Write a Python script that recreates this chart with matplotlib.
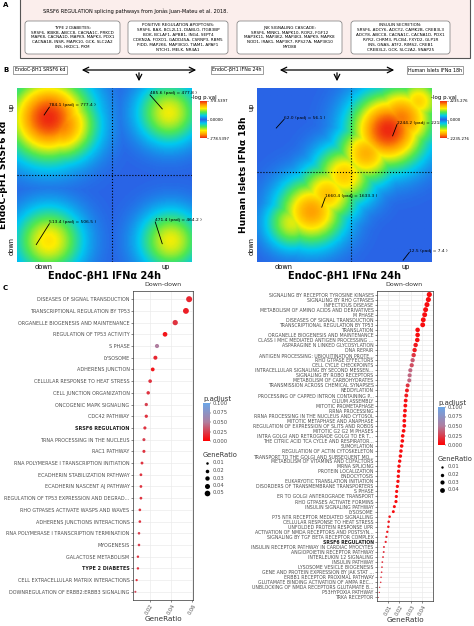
import numpy as np
import matplotlib
matplotlib.use('Agg')
import matplotlib.pyplot as plt
from matplotlib.colors import LinearSegmentedColormap, Normalize
from matplotlib.patches import FancyBboxPatch, Rectangle

W, H = 474, 626

# ---- panel A text
A_TITLE = 'SRSF6 REGULATION splicing pathways from Jonàs Juan-Mateu et al. 2018.'
A_BOXES = [
    'TYPE 2 DIABETES:\nSRSF6, IKBKB, ABCC8, CACNA1C, PRKCD\nMAPK8, CACNA1D, MAPK9, MAPK3, PDX1\n'
    'CACNA1B, INSR, MAPK10, GCK, SLC2A2\nINS, HKDC1, PKM',
    'POSITIVE REGULATION APOPTOSIS:\nSRSF6, BAX, BCL2L11, DIABLO, ITGB3BP\nBOK, BCLAF1, APBB1, ING4, SEPT4\n'
    'CDKN2A, FOXO1, GADD45A, CSRNP3, RBM5\nPIDD, MAP2K6, MAP3K10, TIAM1, APAF1\nNTCH1, MELK, NR4A1',
    'JNK SIGNALING CASCADE:\nSRSF6, MINK1, MAPK10, ROR2, FGF12\nMAP3K11, MAP4K2, MAP4K3, MAPK9, MAPK8\n'
    'NOD1, IRAK1, MAP3K7, RPS27A, MAP3K10\nMYD88',
    'INSULIN SECRETION:\nSRSF6, ADCY6, ADCY2, CAMK2B, CREB3L3\nADCY8, ABCC8, CACNA1C, CACNA1D, PDX1\n'
    'RYR2, CHRM3, PLCB4, FXYD2, GLP1R\nINS, GNAS, ATF2, RIMS2, CREB1\nCREB3L2, GCK, SLC2A2, SNAP25',
]
A_BOX_X = [(25, 120), (128, 228), (237, 342), (351, 450)]

# ---- panel B
B_NAMES = ['EndoC-βH1 SRSF6 kd', 'EndoC-βH1 IFNα 24h', 'Human Islets IFNα 18h']
# blobs: (x, y, amplitude, width) in quadrant space [-1, 1]
B1_BLOBS = [(-0.64, 0.66, 1.00, 0.33), (-0.5, 0.58, 0.85, 0.28), (0.74, 0.72, 0.58, 0.25),
            (-0.64, -0.76, 0.62, 0.27), (0.76, -0.76, 0.58, 0.25)]
B2_BLOBS = [(0.5, 0.52, 1.00, 0.30), (0.65, 0.65, 0.85, 0.28), (-0.38, -0.42, 0.78, 0.27),
            (0.0, 0.0, 0.68, 0.25), (0.25, 0.25, 0.74, 0.25), (-0.2, -0.22, 0.70, 0.25),
            (0.85, 0.85, 0.66, 0.2), (-0.6, -0.55, 0.56, 0.21)]
B1_MAX, B2_MAX = '778.5397', '2235.276'
B1_NOTES = [('784.1 (padj = 777.4 )', (-0.63, 0.80), (-0.69, 0.69)),
            ('485.6 (padj = 477.8 )', (0.52, 0.94), (0.66, 0.76)),
            ('513.4 (padj = 506.5 )', (-0.63, -0.54), (-0.78, -0.80)),
            ('471.4 (padj = 464.2 )', (0.58, -0.52), (0.66, -0.79))]
B2_NOTES = [('62.0 (padj = 56.1 )', (-0.69, 0.66), (-0.78, 0.54)),
            ('2244.2 (padj = 2218.2 )', (0.60, 0.60), (0.55, 0.45)),
            ('1660.4 (padj = 1633.3 )', (-0.22, -0.24), (-0.26, -0.37)),
            ('12.5 (padj = 7.4 )', (0.74, -0.87), (0.67, -0.98))]

# ---- panel C
C1_TERMS = ['DISEASES OF SIGNAL TRANSDUCTION', 'TRANSCRIPTIONAL REGULATION BY TP53',
            'ORGANELLE BIOGENESIS AND MAINTENANCE', 'REGULATION OF TP53 ACTIVITY', 'S PHASE',
            'LYSOSOME', 'ADHERENS JUNCTION', 'CELLULAR RESPONSE TO HEAT STRESS',
            'CELL JUNCTION ORGANIZATION', 'ONCOGENIC MAPK SIGNALING', 'CDC42 PATHWAY',
            'SRSF6 REGULATION', 'TRNA PROCESSING IN THE NUCLEUS', 'RAC1 PATHWAY',
            'RNA POLYMERASE I TRANSCRIPTION INITIATION', 'ECADHERIN STABILIZATION PATHWAY',
            'ECADHERIN NASCENT AJ PATHWAY', 'REGULATION OF TP53 EXPRESSION AND DEGRAD...',
            'RHO GTPASES ACTIVATE WASPS AND WAVES', 'ADHERENS JUNCTIONS INTERACTIONS',
            'RNA POLYMERASE I TRANSCRIPTION TERMINATION', 'MYOGENESIS', 'GALACTOSE METABOLISM',
            'TYPE 2 DIABETES', 'CELL EXTRACELLULAR MATRIX INTERACTIONS',
            'DOWNREGULATION OF ERBB2:ERBB3 SIGNALING']
C1_RATIO = [0.057, 0.054, 0.044, 0.0345, 0.027, 0.0255, 0.023, 0.0206, 0.0188, 0.017, 0.017,
            0.0157, 0.0148, 0.0148, 0.013, 0.012, 0.012, 0.012, 0.011, 0.011, 0.0102, 0.0102,
            0.0092, 0.0092, 0.008, 0.0068]
C1_PADJ = [0.015, 0.012, 0.02, 0.008, 0.05, 0.015, 0.008, 0.02, 0.02, 0.025, 0.02, 0.02, 0.025,
           0.02, 0.02, 0.02, 0.02, 0.02, 0.02, 0.02, 0.025, 0.025, 0.02, 0.02, 0.02, 0.03]

C2_TERMS = ['SIGNALING BY RECEPTOR TYROSINE KINASES', 'SIGNALING BY RHO GTPASES', 'INFECTIOUS DISEASE',
            'METABOLISM OF AMINO ACIDS AND DERIVATIVES', 'M PHASE', 'DISEASES OF SIGNAL TRANSDUCTION',
            'TRANSCRIPTIONAL REGULATION BY TP53', 'TRANSLATION', 'ORGANELLE BIOGENESIS AND MAINTENANCE',
            'CLASS I MHC MEDIATED ANTIGEN PROCESSING ...', 'ASPARAGINE N LINKED GLYCOSYLATION',
            'DNA REPAIR', 'ANTIGEN PROCESSING: UBIQUITINATION PROTE...', 'RHO GTPASE EFFECTORS',
            'CELL CYCLE CHECKPOINTS', 'INTRACELLULAR SIGNALING BY SECOND MESSEN...',
            'SIGNALING BY ROBO RECEPTORS', 'METABOLISM OF CARBOHYDRATES',
            'TRANSMISSION ACROSS CHEMICAL SYNAPSES', 'NEDDYLATION',
            'PROCESSING OF CAPPED INTRON CONTAINING P...', 'CILIUM ASSEMBLY', 'MITOTIC PROMETAPHASE',
            'RRNA PROCESSING', 'RRNA PROCESSING IN THE NUCLEUS AND CYTOSOL',
            'MITOTIC METAPHASE AND ANAPHASE', 'REGULATION OF EXPRESSION OF SLITS AND ROBOS',
            'MITOTIC G2 G2 M PHASES', 'INTRA GOLGI AND RETROGRADE GOLGI TO ER T...',
            'THE CITRIC ACID TCA CYCLE AND RESPIRATOR...', 'SUMOYLATION',
            'REGULATION OF ACTIN CYTOSKELETON', 'TRANSPORT TO THE GOLGI AND SUBSEQUENT MO...',
            'METABOLISM OF VITAMINS AND COFACTORS', 'MRNA SPLICING', 'PROTEIN LOCALIZATION',
            'ENDOCYTOSIS', 'EUKARYOTIC TRANSLATION INITIATION', 'DISORDERS OF TRANSMEMBRANE TRANSPORTERS',
            'S PHASE', 'ER TO GOLGI ANTEROGRADE TRANSPORT', 'RHO GTPASES ACTIVATE FORMINS',
            'INSULIN SIGNALING PATHWAY', 'LYSOSOME', 'P75 NTR RECEPTOR MEDIATED SIGNALLING',
            'CELLULAR RESPONSE TO HEAT STRESS', 'UNFOLDED PROTEIN RESPONSE UPR',
            'ACTIVATION OF NMDA RECEPTORS AND POSTSYN...', 'SIGNALING BY TGF BETA RECEPTOR COMPLEX',
            'SRSF6 REGULATION', 'INSULIN RECEPTOR PATHWAY IN CARDIAC MYOCYTES',
            'ANGIOPOIETIN RECEPTOR PATHWAY', 'INTERLEUKIN 12 SIGNALING', 'INSULIN PATHWAY',
            'LYSOSOME VESICLE BIOGENESIS', 'GENE AND PROTEIN EXPRESSION BY JAK STAT ...',
            'ERBB1 RECEPTOR PROXIMAL PATHWAY', 'GLUTAMATE BINDING ACTIVATION OF AMPA REC...',
            'UNBLOCKING OF NMDA RECEPTORS GLUTAMATE B...', 'P53HYPOXIA PATHWAY', 'TRKA RECEPTOR']
C2_RATIO = [0.046, 0.0452, 0.044, 0.0428, 0.042, 0.0408, 0.0403, 0.0359, 0.0359, 0.0356, 0.0342,
            0.0333, 0.0325, 0.0316, 0.0308, 0.0296, 0.029, 0.0287, 0.0273, 0.0267, 0.0261, 0.0256,
            0.0253, 0.025, 0.0247, 0.0244, 0.0244, 0.0238, 0.023, 0.0227, 0.0221, 0.0215, 0.021,
            0.0204, 0.0198, 0.0195, 0.0192, 0.0189, 0.0184, 0.0178, 0.0175, 0.0172, 0.0158, 0.0149,
            0.0117, 0.0109, 0.0106, 0.0097, 0.0089, 0.0083, 0.0068, 0.0066, 0.006, 0.0054, 0.0051,
            0.0048, 0.0043, 0.004, 0.0031, 0.0028, 0.002]
C2_PADJ = [0.005, 0.005, 0.005, 0.005, 0.005, 0.005, 0.005, 0.005, 0.005, 0.005, 0.01, 0.01, 0.02,
           0.035, 0.03, 0.04, 0.04, 0.04, 0.02, 0.01, 0.01, 0.005, 0.005, 0.005, 0.005, 0.005, 0.005,
           0.005, 0.005, 0.005, 0.005, 0.005, 0.005, 0.005, 0.005, 0.005, 0.005, 0.005, 0.005, 0.005,
           0.005, 0.005, 0.005, 0.005, 0.01, 0.01, 0.01, 0.01, 0.015, 0.015, 0.02, 0.02, 0.02, 0.02,
           0.02, 0.02, 0.02, 0.02, 0.025, 0.02, 0.03]


def fx(px):
    return px / W


def fy(py):
    return 1 - py / H


def axes_px(fig, x0, y0, x1, y1):
    return fig.add_axes([fx(x0), fy(y1), (x1 - x0) / W, (y1 - y0) / H])


fig = plt.figure(figsize=(W / 100, H / 100), dpi=100)
ovl = fig.add_axes([0, 0, 1, 1])
ovl.set_xlim(0, W)
ovl.set_ylim(H, 0)
ovl.axis('off')

# ---- panel A
ovl.text(3, 5, 'A', fontsize=5, fontweight='bold', va='center')
ovl.add_patch(Rectangle((20, -2), 450, 60, fc='#fbeeec', ec='#555555', lw=0.8))
ovl.text(43, 11, A_TITLE, fontsize=3.6, va='center')
for (x0, x1), txt in zip(A_BOX_X, A_BOXES):
    ovl.add_patch(FancyBboxPatch((x0, 21), x1 - x0, 33, boxstyle='round,pad=0,rounding_size=3',
                                 fc='white', ec='#777777', lw=0.5))
    ovl.text((x0 + x1) / 2, 37.5, txt, fontsize=3.0, ha='center', va='center', linespacing=1.3)

# ---- panel B header
ovl.text(3, 70, 'B', fontsize=5, fontweight='bold', va='center')
box_cx = [40, 237, 435]
for cx, name in zip(box_cx, B_NAMES):
    ovl.text(cx, 70, name, fontsize=3.4, ha='center', va='center',
             bbox=dict(boxstyle='square,pad=0.3', fc='white', ec='#777777', lw=0.5))
for (a, b), dx in [((79, 199), 139), ((277, 397), 337)]:
    ovl.annotate('', xy=(a, 70), xytext=(b, 70),
                 arrowprops=dict(arrowstyle='<->', lw=0.9, color='black'))
    ovl.annotate('', xy=(dx, 84), xytext=(dx, 70),
                 arrowprops=dict(arrowstyle='->', lw=0.9, color='black'))

half = ['#ee2a10', '#ff9a00', '#ffee00', '#50e850', '#00c8f0', '#2a62e6']
heat_cmap = LinearSegmentedColormap.from_list('sym', half + half[-2::-1])
grid = np.linspace(-1, 1, 200)
gx, gy = np.meshgrid(grid, grid)


def field(blobs):
    z = np.zeros_like(gx)
    for bx, by, amp, wd in blobs:
        z = np.maximum(z, amp * np.exp(-((gx - bx) ** 2 + (gy - by) ** 2) / (2 * wd ** 2)))
    return z


def heat(x0, blobs, notes, ylabel, vmax_txt, zero_txt, vline, hline):
    ax = axes_px(fig, x0, 88, x0 + 175, 262)
    # values 0..1 mapped onto the lower (blue -> red) half of the symmetric scale
    ax.imshow(-field(blobs), extent=(-1, 1, -1, 1), origin='lower', cmap=heat_cmap,
              vmin=-1, vmax=1, aspect='auto', interpolation='bilinear')
    ax.axvline(vline, ls=':', color='black', lw=0.8)
    ax.axhline(hline, ls=':', color='black', lw=0.8)
    for txt, tpos, lpos in notes:
        ax.text(tpos[0], tpos[1], txt, fontsize=3.2, va='center')
        ax.plot([lpos[0], tpos[0]], [lpos[1], tpos[1] - 0.02], color='black', lw=0.6)
    ax.set_xlim(-1, 1)
    ax.set_ylim(-1, 1)
    ax.set_xticks([-0.7, 0.7], ['down', 'up'], fontsize=4.8)
    ax.set_yticks([-0.82, 0.78], ['down', 'up'], fontsize=4.8, rotation=90, va='center')
    ax.tick_params(length=0, pad=1.5)
    for s in ax.spines.values():
        s.set_visible(False)
    ax.set_xlabel('EndoC-βH1 IFNα 24h', fontsize=7, fontweight='bold', labelpad=1)
    ax.set_ylabel(ylabel, fontsize=6.6, fontweight='bold', labelpad=1)
    cax = axes_px(fig, x0 + 183, 101, x0 + 190, 138)
    cb = fig.colorbar(plt.cm.ScalarMappable(Normalize(-1, 1), heat_cmap), cax=cax, ticks=[-1, 0, 1])
    cb.ax.set_yticklabels(['-' + vmax_txt, zero_txt, vmax_txt], fontsize=2.8)
    cb.ax.tick_params(length=1, width=0.4, pad=1)
    cb.outline.set_visible(False)
    cax.set_title('-log p.val', fontsize=4, pad=1.5)


heat(17, B1_BLOBS, B1_NOTES, 'EndoC-βH1 SRSF6 kd', B1_MAX, '0.0000', 0.09, 0.0)
heat(257, B2_BLOBS, B2_NOTES, 'Human Islets IFNα 18h', B2_MAX, '0.000', 0.07, 0.03)

# ---- panel C
ovl.text(3, 288, 'C', fontsize=5, fontweight='bold', va='center')
pad_cmap = LinearSegmentedColormap.from_list('padj', ['#ff0000', '#b07fa0', '#6aa6e8'])
pnorm = Normalize(0, 0.1)


def dots(x0, x1, y1, terms, ratio, padj, xlim, xticks, scale, lab_fs, leg_x, leg_y,
         leg_vals, title_x):
    ax = axes_px(fig, x0, 291, x1, y1)
    n = len(terms)
    ypos = np.arange(n)[::-1]
    ax.scatter(ratio, ypos, s=np.array(ratio) * scale, c=padj, cmap=pad_cmap, norm=pnorm,
               zorder=3, lw=0)
    ax.set_xlim(*xlim)
    ax.set_ylim(-0.7, n - 0.3)
    ax.set_yticks(ypos, terms, fontsize=lab_fs, color='#4d4d4d')
    for lbl in ax.get_yticklabels():
        if lbl.get_text() in ('SRSF6 REGULATION', 'TYPE 2 DIABETES'):
            lbl.set_fontweight('bold')
            lbl.set_color('#222222')
    ax.set_xticks(xticks, [f'{t:g}' for t in xticks], fontsize=3.6, rotation=60, color='#4d4d4d')
    ax.tick_params(length=1.5, width=0.4, pad=1, color='#333333')
    ax.grid(color='#ebebeb', lw=0.5)
    ax.set_axisbelow(True)
    for s in ax.spines.values():
        s.set_color('#333333')
        s.set_linewidth(0.5)
    ax.set_xlabel('GeneRatio', fontsize=5.2, color='#333333', labelpad=0)
    ovl.text(title_x, 285, 'Down-down', fontsize=4.5, ha='center', va='center', color='#333333')
    cax = axes_px(fig, leg_x, leg_y, leg_x + 7, leg_y + 38)
    cb = fig.colorbar(plt.cm.ScalarMappable(pnorm, pad_cmap), cax=cax,
                      ticks=[0, 0.025, 0.05, 0.075, 0.1])
    cb.ax.set_yticklabels(['0.000', '0.025', '0.050', '0.075', '0.100'], fontsize=3.8,
                          color='#4d4d4d')
    cb.ax.tick_params(length=1, width=0.3, pad=1)
    cb.outline.set_visible(False)
    cax.set_title('p.adjust', fontsize=5, pad=1.5, loc='left', color='#333333')
    ovl.text(leg_x, leg_y + 52, 'GeneRatio', fontsize=4.8, va='center', color='#333333')
    for i, v in enumerate(leg_vals):
        yy = leg_y + 60 + i * 7.5
        ovl.scatter([leg_x + 4], [yy], s=v * scale, color='black', lw=0)
        ovl.text(leg_x + 10, yy, f'{v:g}', fontsize=3.8, va='center', color='#4d4d4d')


dots(133, 193, 600, C1_TERMS, C1_RATIO, C1_PADJ, (0.0046, 0.0606), [0.02, 0.04, 0.06], 330,
     3.5, 203, 403, [0.01, 0.02, 0.03, 0.04, 0.05], 163)
dots(377, 433, 601, C2_TERMS, C2_RATIO, C2_PADJ, (0.0008, 0.0492), [0.01, 0.02, 0.03, 0.04], 300,
     3.3, 438, 407, [0.01, 0.02, 0.03, 0.04], 404)

fig.savefig('out.png', dpi=100)
